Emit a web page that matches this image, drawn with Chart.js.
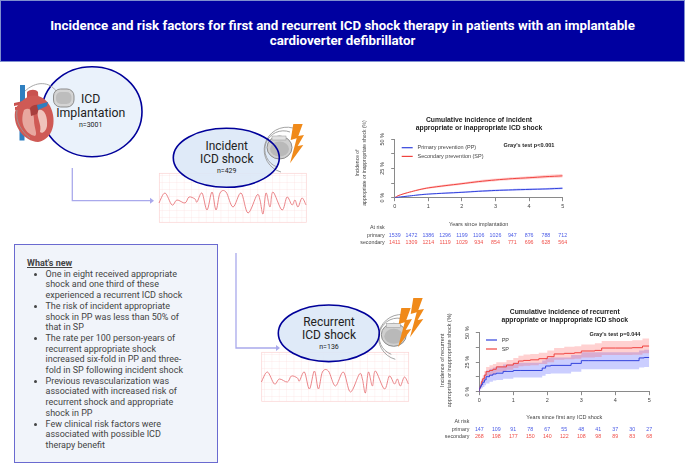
<!DOCTYPE html>
<html>
<head>
<meta charset="utf-8">
<title>ICD shock therapy</title>
<script src="https://cdn.jsdelivr.net/npm/chart.js@4"></script>
<style>
  html, body { margin: 0; padding: 0; background: #fff; }
  body { position: relative; width: 685px; height: 465px; overflow: hidden; font-family: Roboto, sans-serif; }
  .layer { position: absolute; left: 0; top: 0; }
  canvas { position: absolute; }
  #header { position: absolute; left: 0; top: 0; width: 685px; height: 62px; box-sizing: border-box; background: #0000a0; border: 1px solid #7f8fce;
    color: #fff; font-weight: 700; font-size: 13.3px; line-height: 15px; text-align: center; padding-top: 17px; }
  #news { position: absolute; left: 14px; top: 244px; width: 204px; height: 219px; box-sizing: border-box; background: #f1f4fa; border: 1.5px solid #6a6ad0;
    color: #444; font-size: 9px; line-height: 10.7px; padding: 13px 0 0 12px; }
  #news b { text-decoration: underline; font-weight: 700; }
  #news ul { margin: 0; padding: 0 0 0 18.5px; }
  .lbl { position: absolute; transform: translate(-50%, -50%); white-space: nowrap; color: #222; }
</style>
</head>
<body>
<div id="header">Incidence and risk factors for first and recurrent ICD shock therapy in patients with an implantable<br>cardioverter defibrillator</div>

<svg class="layer" width="685" height="465" viewBox="0 0 685 465">
  <defs>
    <pattern id="ecgGrid" width="7.35" height="7" patternUnits="userSpaceOnUse">
      <path d="M7.35 0H0V7" fill="none" stroke="#fcdcdc" stroke-width="0.6"/>
    </pattern>
    <g id="ecg">
      <rect x="159.3" y="173.3" width="147" height="49" fill="url(#ecgGrid)" stroke="#fbd3d3" stroke-width="0.7"/>
      <path id="ecgTrace" fill="none" stroke="#e8777c" stroke-width="0.9" stroke-linejoin="round"
        data-points="159,203 165,193 172,205 177,200 185,203 189,197 195,199 197,202 202,193 207,210 212,192 216,210 220,193 226,192 233,207 241,193 248,213 257,195 260,200 263,214 266,193 270,207 273,192 282,210 287,197 292,205 295,200 298,207 302,198 306,205"/>
    </g>
    <g id="device">
      <g fill="none" stroke="#9a9a9a" stroke-width="0.9">
        <path d="M293 128 A 22 22 0 1 0 281 172"/>
        <path d="M290 132 A 18 18 0 1 0 277 167"/>
      </g>
      <ellipse cx="279.5" cy="147.5" rx="12.5" ry="11.5" fill="#cfcfcf" stroke="#8d8d8d" stroke-width="1"/>
      <ellipse cx="279.5" cy="149" rx="9.5" ry="7.5" fill="#b9b9b9"/>
      <rect x="272" y="136" width="14" height="4" fill="#e2e2e2" stroke="#999" stroke-width="0.5"/>
    </g>
    <polygon id="bolt" fill="#f08a1a" points="302.7,124 293.3,124 290.7,140 296.7,138.3 290,163.3 303.3,145 297.7,146 304,135 298.3,136"/>
  </defs>

  <!-- connectors -->
  <g fill="none" stroke="#a9a9ec" stroke-width="1.3">
    <path d="M72.3 168V200.7H151"/>
    <path d="M236 253V348H277"/>
  </g>
  <polygon points="154,200.7 150,197.7 150,203.7" fill="#a9a9ec"/>
  <polygon points="280,348 276,345 276,351" fill="#a9a9ec"/>

  <!-- implantation -->
  <ellipse cx="92" cy="111.7" rx="50" ry="45" fill="#eaf2fb" stroke="#00009a" stroke-width="1.6"/>
  <path d="M56 91 C 50 82 36 80 24 92" fill="none" stroke="#a8a8a8" stroke-width="1"/>
  <rect x="53.5" y="89" width="20.5" height="18" rx="7" fill="#d4d4d4" stroke="#8d8d8d" stroke-width="1"/>
  <rect x="56" y="92" width="15.5" height="12" rx="5" fill="#bdbdbd"/>
  <path d="M20 85h5v20h-5z M19.5 127h5v13.5h-5z" fill="#2f7fc0"/>
  <path d="M14 103l14-3v3l-14 3z M15 107l13-1v2l-13 2z" fill="#c9524f"/>
  <path d="M27 92c3-3 9-3 11 0l1 14-12 0z" fill="#c9524f"/>
  <path d="M22 101C30 92 44 94 50 106C58 122 52 140 38 142C24 141 13 127 15 112C16 107 18 104 22 101Z" fill="#cf5a55"/>
  <path d="M24 110C30 106 34 112 34 120C34 128 38 134 35 136C26 134 19 124 24 110Z" fill="#e8a79f"/>
  <path d="M38 110C44 108 48 116 47 126C46 132 42 134 40 132C42 124 36 118 38 110Z" fill="#f0c3bb"/>
  <path d="M30 108c3-4 8-4 10-2l-3 8-6 2z" fill="#a83f3d"/>
  <path d="M37 105L48 102L47 106L38 110Z" fill="#2f7fc0"/>
  <path d="M17 110C15 122 22 132 30 138" fill="none" stroke="#9a9a9a" stroke-width="0.8"/>

  <!-- incident -->
  <use href="#ecg"/>
  <ellipse cx="226.3" cy="157.8" rx="53" ry="29.5" fill="#dbe8f7" fill-opacity="0.9"/>
  <use href="#device"/>
  <use href="#bolt"/>
  <ellipse cx="226.3" cy="157.8" rx="53" ry="29.5" fill="none" stroke="#00009a" stroke-width="1.6"/>

  <!-- recurrent -->
  <use href="#ecg" x="102.4" y="179"/>
  <ellipse cx="328.8" cy="333.3" rx="50.5" ry="28.3" fill="#dbe8f7" fill-opacity="0.9"/>
  <use href="#device" x="114.3" y="187.3"/>
  <use href="#bolt" x="120" y="174"/>
  <use href="#bolt" x="108" y="184"/>
  <ellipse cx="328.8" cy="333.3" rx="50.5" ry="28.3" fill="none" stroke="#00009a" stroke-width="1.6"/>
</svg>

<div class="lbl" style="left:90.7px;top:99px;font-size:12.3px">ICD</div>
<div class="lbl" style="left:90.7px;top:113px;font-size:12.3px">Implantation</div>
<div class="lbl" style="left:90.7px;top:125px;font-size:7px">n=3001</div>
<div class="lbl" style="left:226.7px;top:145.7px;font-size:11.9px">Incident</div>
<div class="lbl" style="left:226.7px;top:159.3px;font-size:11.9px">ICD shock</div>
<div class="lbl" style="left:226.7px;top:171px;font-size:7px">n=429</div>
<div class="lbl" style="left:329px;top:321.7px;font-size:12px">Recurrent</div>
<div class="lbl" style="left:329px;top:335px;font-size:12px">ICD shock</div>
<div class="lbl" style="left:329px;top:346.7px;font-size:7px">n=136</div>

<div id="news">
  <b>What's new</b>
  <ul>
    <li>One in eight received appropriate<br>shock and one third of these<br>experienced a recurrent ICD shock</li>
    <li>The risk of incident appropriate<br>shock in PP was less than 50% of<br>that in SP</li>
    <li>The rate per 100 person-years of<br>recurrent appropriate shock<br>increased six-fold in PP and three-<br>fold in SP following incident shock</li>
    <li>Previous revascularization was<br>associated with increased risk of<br>recurrent shock and appropriate<br>shock in PP</li>
    <li>Few clinical risk factors were<br>associated with possible ICD<br>therapy benefit</li>
  </ul>
</div>

<canvas id="incident" width="258" height="145" style="left:350px;top:108px"></canvas>
<canvas id="recurrent" width="260" height="145" style="left:435px;top:300px"></canvas>

<script>
// ─── DATA ──────────────────────────────────
const riskYears = [0, 0.5, 1, 1.5, 2, 2.5, 3, 3.5, 4, 4.5, 5];

// incident shock
const incYears = [0, 0.1, 0.25, 0.5, 0.75, 1, 1.5, 2, 2.5, 3, 3.5, 4, 4.5, 5];
const incPP    = [0, 0.4, 0.9, 1.7, 2.5, 3.1, 3.9, 4.6, 5.5, 6.2, 6.7, 7.1, 7.5, 8.1];
const incPPLow = [0, 0.2, 0.6, 1.3, 2, 2.6, 3.3, 4, 4.8, 5.5, 5.9, 6.3, 6.7, 7.2];
const incPPUp  = [0, 0.6, 1.2, 2.1, 3, 3.6, 4.5, 5.3, 6.2, 7, 7.5, 8, 8.4, 9];
const incSP    = [0, 1.7, 3.2, 5.2, 7, 8.4, 10.3, 12, 13.8, 15.2, 16.3, 17.1, 18, 18.7];
const incSPLow = [0, 1.3, 2.7, 4.6, 6.3, 7.6, 9.4, 11, 12.7, 14.1, 15.1, 15.9, 16.7, 17.3];
const incSPUp  = [0, 2.1, 3.7, 5.8, 7.7, 9.2, 11.2, 13, 14.9, 16.4, 17.5, 18.4, 19.4, 20.2];
const incRiskPrimary   = [1539, 1472, 1386, 1296, 1199, 1106, 1026, 947, 876, 788, 712];
const incRiskSecondary = [1411, 1309, 1214, 1119, 1029, 934, 854, 771, 696, 628, 564];

// recurrent shock
const recYearsPP = [0, 0.03, 0.06, 0.1, 0.15, 0.2, 0.3, 0.4, 0.5, 0.7, 1, 1.2, 1.85, 1.95, 2.1, 2.7, 3, 3.2, 4.7, 4.85, 5];
const recPP      = [0, 3, 4.5, 6, 8, 10, 12.7, 14, 15, 15.7, 17.2, 18, 18, 20, 21.8, 22.3, 24, 26.3, 26.3, 28.6, 29];
const recPPLow   = [0, 1, 2, 3, 4, 5.5, 7, 8.5, 9.5, 10, 11, 12, 12, 13.5, 15, 15.5, 17, 19, 19, 20.5, 21];
const recPPUp    = [0, 5, 7, 10, 12, 15, 18, 19.5, 20.5, 21.5, 23, 24.5, 24.5, 26.5, 28.5, 29, 31, 33.5, 33.5, 35, 35.5];
const recYearsSP = [0, 0.03, 0.06, 0.1, 0.15, 0.2, 0.3, 0.4, 0.5, 0.8, 1, 1.15, 1.3, 1.5, 1.75, 2, 2.2, 2.5, 2.8, 3, 3.4, 3.6, 4, 4.5, 4.8, 5];
const recSP      = [0, 3, 5, 8.5, 11, 14, 17, 18, 19, 21, 22.6, 24, 26, 26.5, 27, 28, 29.7, 32, 32.5, 33, 34.5, 35, 37, 37, 37.3, 38.7];
const recSPLow   = [0, 2, 3.5, 6, 8, 10.5, 13, 14, 15, 17, 18.6, 20, 21.5, 22, 22.5, 23.5, 25, 27, 27.5, 28, 29, 29.5, 31, 31, 31.3, 32.5];
const recSPUp    = [0, 4, 7, 11, 14, 17.5, 21, 22.5, 23.5, 25, 26.8, 28.5, 30.5, 31.5, 32, 33, 35, 37, 38, 38.5, 40, 41, 43, 43, 43.5, 45];
const recRiskPrimary   = [147, 109, 91, 78, 67, 55, 48, 41, 37, 30, 27];
const recRiskSecondary = [268, 198, 177, 150, 140, 122, 108, 98, 89, 83, 68];

const BLUE = '#3242dc';
const RED = '#f0433f';
const BLUE_BAND = 'rgba(70,80,255,0.28)';
const RED_BAND = 'rgba(255,70,70,0.25)';
const FONT = "'Liberation Sans', Arial, sans-serif";

// rounds off the decorative ecg trace in the illustration
function smoothTrace(el) {
  const p = el.dataset.points.split(' ').map(s => s.split(',').map(Number));
  let d = `M${p[0][0]} ${p[0][1]}`;
  for (let i = 0; i < p.length - 1; i++) {
    const a = p[Math.max(i - 1, 0)], b = p[i], c = p[i + 1], e = p[Math.min(i + 2, p.length - 1)];
    d += ` C${b[0] + (c[0] - a[0]) / 6} ${b[1] + (c[1] - a[1]) / 6} ${c[0] - (e[0] - b[0]) / 6} ${c[1] - (e[1] - b[1]) / 6} ${c[0]} ${c[1]}`;
  }
  el.setAttribute('d', d);
}
smoothTrace(document.getElementById('ecgTrace'));

function pts(xs, ys) {
  return xs.map((x, i) => ({ x, y: ys[i] }));
}

function lineDs(label, xs, ys, color, stepped) {
  return { label, data: pts(xs, ys), borderColor: color, borderWidth: 1, pointRadius: 0, stepped, tension: stepped ? 0 : 0.25, order: 0, isLine: true };
}

function bandDs(label, xs, ys, fillColor, stepped, order, target) {
  return { label, data: pts(xs, ys), borderWidth: 0, pointRadius: 0, stepped, tension: stepped ? 0 : 0.25, order, fill: target, backgroundColor: fillColor };
}

// text the library has no slot for: title, legend, test note, rotated y title, at risk table
const extrasPlugin = {
  id: 'extras',
  afterDraw(chart, args, o) {
    const { ctx } = chart;
    const xs = chart.scales.x;
    ctx.save();
    ctx.textBaseline = 'middle';

    ctx.font = `bold 6.8px ${FONT}`;
    ctx.fillStyle = '#222';
    ctx.textAlign = 'center';
    o.title.forEach((t, i) => ctx.fillText(t, o.titleX, o.titleY[i]));

    ctx.font = `${o.legendFont}px ${FONT}`;
    chart.data.datasets.filter(d => d.isLine).forEach((d, i) => {
      const y = o.legend.y + i * o.legend.gap;
      ctx.strokeStyle = d.borderColor;
      ctx.lineWidth = 1.2;
      ctx.beginPath();
      ctx.moveTo(o.legend.x, y);
      ctx.lineTo(o.legend.x + 11, y);
      ctx.stroke();
      ctx.fillStyle = '#444';
      ctx.textAlign = 'left';
      ctx.fillText(d.label, o.legend.textX, y);
    });

    ctx.font = `bold 5.6px ${FONT}`;
    ctx.fillStyle = '#222';
    ctx.textAlign = 'center';
    ctx.fillText(o.note, o.noteX, o.noteY);

    ctx.font = `${o.yTitleFont}px ${FONT}`;
    ctx.fillStyle = '#444';
    o.yTitle.forEach((t, i) => {
      ctx.save();
      ctx.translate(o.yTitleX[i], o.yTitleY);
      ctx.rotate(-Math.PI / 2);
      ctx.fillText(t, 0, 0);
      ctx.restore();
    });

    ctx.font = `5.3px ${FONT}`;
    const labelX = xs.getPixelForValue(0) - 10;
    ctx.textAlign = 'right';
    ctx.fillStyle = '#444';
    ctx.fillText('At risk', labelX, o.riskY[0]);
    ctx.fillText('primary', labelX, o.riskY[1]);
    ctx.fillText('secondary', labelX, o.riskY[2]);
    ctx.textAlign = 'center';
    riskYears.forEach((yr, i) => {
      const x = xs.getPixelForValue(yr);
      ctx.fillStyle = '#4a5be6';
      ctx.fillText(o.primary[i], x, o.riskY[1]);
      ctx.fillStyle = '#f0504a';
      ctx.fillText(o.secondary[i], x, o.riskY[2]);
    });
    ctx.restore();
  }
};

function buildConfig(c) {
  const axisColor = '#8a8a8a';
  return {
    type: 'line',
    data: { datasets: c.datasets },
    plugins: [extrasPlugin],
    options: {
      responsive: false,
      animation: false,
      layout: { padding: { left: 0, top: c.topPad, bottom: 0, right: c.rightPad } },
      plugins: {
        legend: { display: false },
        tooltip: { enabled: false },
        extras: c.extras,
      },
      scales: {
        x: {
          type: 'linear', min: 0, max: 5,
          afterFit: s => { s.height = c.xHeight; },
          grid: { drawOnChartArea: false, tickLength: 3.5, color: axisColor },
          border: { color: axisColor },
          ticks: { stepSize: 1, color: '#444', padding: 2, maxRotation: 0, font: { family: FONT, size: 5.5 } },
          title: { display: true, text: c.xTitle, color: '#444', font: { family: FONT, size: 5.5 }, padding: { top: 0, bottom: c.xTitlePad } },
        },
        y: {
          min: 0, max: 50,
          afterFit: s => { s.width = c.yWidth; },
          grid: { drawOnChartArea: false, tickLength: 3.5, color: axisColor },
          border: { color: axisColor },
          ticks: {
            stepSize: 12.5, autoSkip: false, minRotation: 90, maxRotation: 90, crossAlign: 'center', padding: 2,
            color: '#444', font: { family: FONT, size: 5.5 },
            callback: v => (v % 25 === 0 ? v + ' %' : ''),
          },
        },
      },
    },
  };
}

new Chart(document.getElementById('incident'), buildConfig({
  xTitle: 'Years since implantation',
  topPad: 31.3, rightPad: 45.3, xHeight: 55.3, yWidth: 44.7, xTitlePad: 25.7,
  datasets: [
    lineDs('Primary prevention (PP)', incYears, incPP, BLUE, false),
    lineDs('Secondary prevention (SP)', incYears, incSP, RED, false),
    bandDs('PP upper', incYears, incPPUp, BLUE_BAND, false, 2, '+1'),
    bandDs('PP lower', incYears, incPPLow, BLUE_BAND, false, 2, false),
    bandDs('SP upper', incYears, incSPUp, RED_BAND, false, 1, '+1'),
    bandDs('SP lower', incYears, incSPLow, RED_BAND, false, 1, false),
  ],
  extras: {
    title: ['Cumulative incidence of incident', 'appropriate or inappropriate ICD shock'], titleX: 129, titleY: [11.7, 19.7],
    note: "Gray's test p<0.001", noteX: 179, noteY: 37,
    legend: { x: 51.7, textX: 67.5, y: 39.7, gap: 8.7 }, legendFont: 5.5,
    yTitle: ['Incidence of', 'appropriate or inappropriate shock (%)'], yTitleFont: 5, yTitleX: [8, 15], yTitleY: 55,
    riskY: [120, 127.3, 134.3],
    primary: incRiskPrimary, secondary: incRiskSecondary,
  },
}));

new Chart(document.getElementById('recurrent'), buildConfig({
  xTitle: 'Years since first any ICD shock',
  topPad: 32.7, rightPad: 45.7, xHeight: 53.3, yWidth: 44.3, xTitlePad: 24.4,
  datasets: [
    lineDs('PP', recYearsPP, recPP, BLUE, 'after'),
    lineDs('SP', recYearsSP, recSP, RED, 'after'),
    bandDs('PP upper', recYearsPP, recPPUp, BLUE_BAND, 'after', 2, '+1'),
    bandDs('PP lower', recYearsPP, recPPLow, BLUE_BAND, 'after', 2, false),
    bandDs('SP upper', recYearsSP, recSPUp, RED_BAND, 'after', 1, '+1'),
    bandDs('SP lower', recYearsSP, recSPLow, RED_BAND, 'after', 1, false),
  ],
  extras: {
    title: ['Cumulative incidence of recurrent', 'appropriate or inappropriate ICD shock'], titleX: 129.7, titleY: [12, 20.3],
    note: "Gray's test p=0.044", noteX: 180, noteY: 34,
    legend: { x: 51, textX: 66.7, y: 40, gap: 9 }, legendFont: 5.5,
    yTitle: ['Incidence of recurrent', 'appropriate or inappropriate shock (%)'], yTitleFont: 5.5, yTitleX: [7, 14], yTitleY: 60.3,
    riskY: [122, 129.3, 136.3],
    primary: recRiskPrimary, secondary: recRiskSecondary,
  },
}));
</script>
</body>
</html>
